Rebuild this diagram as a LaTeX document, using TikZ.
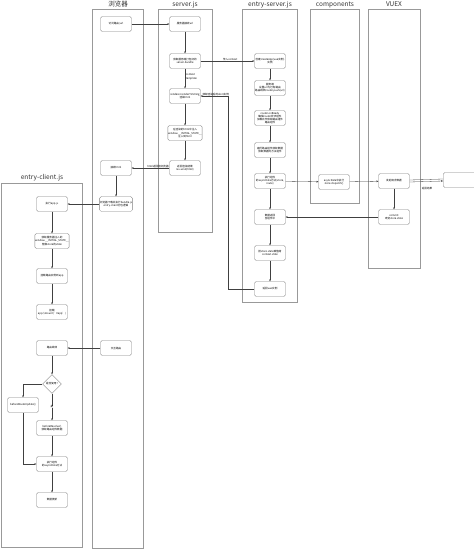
\documentclass[tikz,border=0pt]{standalone}
\usepackage{fontspec}
\setmainfont{Noto Sans CJK SC}
\usetikzlibrary{arrows.meta,shapes.geometric}
\tikzset{
  lane/.style={draw=black!40, line width=0.55pt},
  lanetitle/.style={font=\fontsize{6.5}{7}\selectfont, text=black!80, inner sep=0pt},
  box/.style={draw=black!50, line width=0.35pt, rounded corners=1.6pt, minimum width=31pt, minimum height=15pt, inner sep=0.3pt, align=center, font=\fontsize{2.6}{3.1}\selectfont},
  dia/.style={draw=black!50, line width=0.35pt, diamond, minimum width=19pt, minimum height=19pt, inner sep=0pt, font=\fontsize{2.6}{3.1}\selectfont},
  arr/.style={-{Stealth[length=2pt,width=1.8pt]}, line width=0.3pt, draw=black!75},
  lbl/.style={font=\fontsize{2.6}{3.1}\selectfont, inner sep=0.3pt, align=left, fill=white}
}
\begin{document}
\begin{tikzpicture}[x=1pt,y=-1pt]
\useasboundingbox (0,0) rectangle (474,549);
\fill[white] (0,0) rectangle (474,549);
% lanes
\draw[lane] (92,9) rectangle (143,548);
\draw[lane] (158,9) rectangle (212,232);
\draw[lane] (242,9) rectangle (297,302);
\draw[lane] (310,9) rectangle (359,203);
\draw[lane] (368,9) rectangle (420,268);
\draw[lane] (1,183) rectangle (82,547);
\node[lanetitle] (t1) at (118,4.5) {浏览器};
\node[lanetitle] (t2) at (185,4.5) {server.js};
\node[lanetitle] (t3) at (270,4.5) {entry-server.js};
\node[lanetitle] (t4) at (335,4.5) {components};
\node[lanetitle] (t5) at (394,4.5) {VUEX};
\node[lanetitle] (t6) at (42,178) {entry-client.js};
% browser
\node[box] (B1) at (116,24) {访问路由/url};
\node[box] (B2) at (116,168) {接收html};
\node[box] (B3) at (116,204) {浏览器下载并执行bundle.js\\entry-client打包逻辑};
\node[box] (B4) at (116,348) {交互路由};
% server
\node[box] (S1) at (185,24) {服务器接收url};
\node[box] (S2) at (185,61) {获取服务端打包好的\\server-bundle};
\node[box] (S3) at (185,96) {renderer.renderToString\\渲染html};
\node[box] (S4) at (185,133) {在渲染的html中注入\\window.\_\_INITIAL\_STATE\_\_\\注入到html};
\node[box] (S5) at (185,168) {返回渲染结果\\res.send(html)};
% entry-server
\node[box] (E1) at (270,61) {创建createApp(vue实例)\\实例};
\node[box] (E2) at (270,88) {服务端\\设置url为已有路由\\路由跳转router.push(url)};
\node[box] (E3) at (270,118) {router.onReady\\确保router异步组件\\加载完毕获取路由组件\\路由组件};
\node[box] (E4) at (270,150) {遍历路由组件获取数据\\获取数据的方法组件};
\node[box] (E5) at (270,181) {执行组件\\的asyncData方法(store,\\route)};
\node[box] (E6) at (270,217) {数据返回\\至组件中};
\node[box] (E7) at (270,253) {把store.state赋值给\\context.state};
\node[box] (E8) at (270,289) {返回vue实例};
% components
\node[box] (C1) at (334,182) {asyncData中执行\\store.dispatch()};
% vuex
\node[box] (V1) at (394,181) {发起请求数据};
\node[box] (V2) at (394,217) {commit\\改变store.state};
\node[box, minimum width=38pt, anchor=west] (X1) at (443,180) {};
% entry-client
\node[box] (EC1) at (52,204) {执行app.js};
\node[box] (EC2) at (52,241) {获取服务器注入的\\window.\_\_INITIAL\_STATE\_\_\\替换store的state};
\node[box] (EC3) at (52,276) {挂载路由实例到app};
\node[box] (EC4) at (52,312) {挂载\\app.\$mount('\#app')};
\node[box] (EC5) at (52,348) {路由跳转};
\node[dia] (D1) at (52,384) {是否复用?};
\node[box] (EC6) at (23,405) {beforeRouteUpdate()};
\node[box] (EC7) at (52,428) {beforeResolve()\\获取路由组件数据};
\node[box] (EC8) at (52,464) {执行组件\\的asyncData方法};
\node[box] (EC9) at (52,500) {数据更新};
% connectors
\draw[arr] (B1) -- (S1);
\draw[arr] (S1) -- (S2);
\draw[arr] (S2) -- node[lbl, pos=0.42, right=0.5pt] (L2) {context\\template} (S3);
\draw[arr] (S3) -- (S4);
\draw[arr] (S4) -- (S5);
\draw[arr] (S2) -- node[lbl, pos=0.55, above=0.3pt, fill=none] (L1) {传入context} (E1);
\draw[arr] (E1) -- (E2);
\draw[arr] (E2) -- (E3);
\draw[arr] (E3) -- (E4);
\draw[arr] (E4) -- (E5);
\draw[arr] (E5) -- (C1);
\draw[arr] (C1) -- (V1);
\draw[arr] ([yshift=-1pt]V1.east) -- ([yshift=-1pt]X1.west);
\draw[line width=0.3pt, draw=black!75] ([yshift=1pt]X1.west) -- ([yshift=1pt]V1.east);
\node[lbl, fill=none] (L5) at (427,189) {返回结果};
\draw[arr] (V1) -- (V2);
\draw[arr] (V2) -- (E6);
\draw[arr] (E5) -- (E6);
\draw[arr] (E6) -- (E7);
\draw[arr] (E7) -- (E8);
\coordinate (R1) at (228,289);
\coordinate (R2) at (228,96);
\draw[arr] (E8.west) -- (R1) -- (R2) -- node[lbl, above=0.3pt, pos=0.45, fill=none] (L3) {获取渲染后的dom实例} (S3.east);
\draw[arr] (S5) -- node[lbl, above=0.3pt, pos=0.3, fill=none] (L4) {html返回给浏览器} (B2);
\draw[arr] (B2) -- (B3);
\draw[arr] (B3) -- (EC1);
\draw[arr] (EC1) -- (EC2);
\draw[arr] (EC2) -- (EC3);
\draw[arr] (EC3) -- (EC4);
\draw[arr] (B4) -- (EC5);
\draw[arr] (EC5) -- (D1);
\draw[arr] (D1.west) -| (EC6.north);
\draw[arr] (D1.south) -- node[lbl, pos=0.5] (L6) {是} (EC7.north);
\draw[arr] (EC7) -- (EC8);
\draw[arr] (EC6.south) |- (EC8.west);
\draw[arr] (EC8) -- (EC9);
\end{tikzpicture}
\end{document}
